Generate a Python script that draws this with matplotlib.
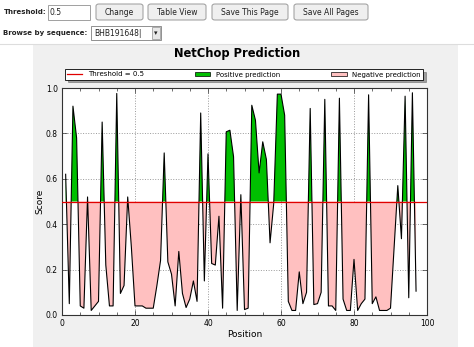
import matplotlib
matplotlib.use("Agg")
import matplotlib.pyplot as plt
import numpy as np
from matplotlib.patches import Rectangle, FancyBboxPatch, Patch
from matplotlib.lines import Line2D
from matplotlib.ticker import MultipleLocator

# ---------------- data ----------------
positions = list(range(1, 98))
scores = [
    0.62, 0.05, 0.92, 0.78, 0.04, 0.03, 0.52, 0.02, 0.04, 0.06,   # 1-10
    0.85, 0.22, 0.04, 0.04, 0.976, 0.095, 0.13, 0.52, 0.30, 0.04,  # 11-20
    0.04, 0.04, 0.03, 0.03, 0.03, 0.13, 0.24, 0.714, 0.234, 0.18,  # 21-30
    0.04, 0.28, 0.095, 0.033, 0.07, 0.15, 0.06, 0.89, 0.15, 0.71,  # 31-40
    0.227, 0.22, 0.435, 0.03, 0.807, 0.814, 0.697, 0.02, 0.53, 0.024,  # 41-50
    0.03, 0.924, 0.858, 0.626, 0.763, 0.685, 0.318, 0.49, 0.973, 0.973,  # 51-60
    0.88, 0.06, 0.02, 0.02, 0.19, 0.05, 0.10, 0.91, 0.046, 0.05,  # 61-70
    0.10, 0.95, 0.04, 0.04, 0.02, 0.955, 0.07, 0.02, 0.02, 0.245,  # 71-80
    0.02, 0.05, 0.07, 0.97, 0.05, 0.08, 0.02, 0.02, 0.02, 0.03,  # 81-90
    0.30, 0.57, 0.336, 0.964, 0.076, 0.979, 0.105,               # 91-97
]
threshold = 0.5
x_ticks = [0, 20, 40, 60, 80, 100]
y_ticks = [0.0, 0.2, 0.4, 0.6, 0.8, 1.0]
title = "NetChop Prediction"
legend_labels = ["Threshold = 0.5", "Positive prediction", "Negative prediction"]
buttons = ["Change", "Table View", "Save This Page", "Save All Pages"]

# ---------------- figure ----------------
W, H = 474, 347
fig = plt.figure(figsize=(W / 100, H / 100), dpi=100)
fig.patch.set_facecolor("white")

def fx(px):
    return px / W

def fy(py):
    return 1 - py / H

# chart panel background
fig.patches.append(Rectangle((fx(33), fy(347)), fx(458) - fx(33), fy(45) - fy(347),
                             transform=fig.transFigure, facecolor="#f0f0f0",
                             edgecolor="none", zorder=-5))
# separator line
fig.lines.append(Line2D([0, 1], [fy(44), fy(44)], transform=fig.transFigure,
                        color="#dddddd", lw=0.8, zorder=-4))

# form controls
fs_form = 5.0
fs_btn = 5.5
fig.text(fx(4), fy(12), "Threshold:", fontsize=fs_form, fontweight="bold",
         va="center", ha="left", color="#222222")
fig.patches.append(Rectangle((fx(48), fy(20)), fx(90) - fx(48), fy(5) - fy(20),
                             transform=fig.transFigure, facecolor="white",
                             edgecolor="#a0a0a0", lw=0.7, zorder=-3))
fig.text(fx(50), fy(12.5), "0.5", fontsize=fs_btn, va="center", ha="left", color="#222222")

btn_x = [(96, 143), (148, 206), (212, 288), (294, 368)]
for label, (x0, x1) in zip(buttons, btn_x):
    fig.patches.append(FancyBboxPatch((fx(x0), fy(20)), fx(x1) - fx(x0), fy(4) - fy(20),
                                      boxstyle="round,pad=0,rounding_size=0.006",
                                      transform=fig.transFigure, facecolor="#efefef",
                                      edgecolor="#9a9a9a", lw=0.7, zorder=-3))
    fig.text(fx((x0 + x1) / 2), fy(12.5), label, fontsize=fs_btn, va="center",
             ha="center", color="#222222")

fig.text(fx(3), fy(33), "Browse by sequence:", fontsize=fs_form, fontweight="bold",
         va="center", ha="left", color="#222222")
fig.patches.append(Rectangle((fx(91), fy(40)), fx(161) - fx(91), fy(26) - fy(40),
                             transform=fig.transFigure, facecolor="white",
                             edgecolor="#909090", lw=0.7, zorder=-3))
fig.text(fx(94), fy(33.3), "BHB191648|", fontsize=fs_btn, va="center", ha="left",
         color="#222222")
fig.patches.append(Rectangle((fx(152), fy(39)), fx(160) - fx(152), fy(27) - fy(39),
                             transform=fig.transFigure, facecolor="#e8e8e8",
                             edgecolor="#909090", lw=0.5, zorder=-2))
fig.text(fx(156), fy(33), "\u25be", fontsize=5, va="center", ha="center", color="#222222")

# ---------------- axes ----------------
ax = fig.add_axes([fx(62), fy(315), fx(427) - fx(62), fy(88) - fy(315)])
ax.set_zorder(2)
ax.set_facecolor("white")
pos = np.array(positions)
sc = np.array(scores)

green = "#00c000"
pink = "#ffc0c0"
ax.fill_between(pos, sc, threshold, where=sc >= threshold, interpolate=True,
                facecolor=green, edgecolor="none", zorder=2)
ax.fill_between(pos, sc, threshold, where=sc <= threshold, interpolate=True,
                facecolor=pink, edgecolor="none", zorder=2)
ax.plot(pos, sc, color="black", lw=0.8, zorder=3)
ax.axhline(threshold, color="#e00000", lw=0.9, zorder=4)

ax.set_xlim(0, 100)
ax.set_ylim(0, 1.0)
ax.set_xticks(x_ticks)
ax.set_yticks(y_ticks)
ax.set_xticklabels([str(t) for t in x_ticks])
ax.set_yticklabels([f"{t:.1f}" for t in y_ticks])
ax.xaxis.set_minor_locator(MultipleLocator(5))
ax.tick_params(which="both", direction="in", top=True, right=True,
               labelsize=5.5, pad=3, width=0.5, color="#333333")
ax.tick_params(which="major", length=3.5)
ax.tick_params(which="minor", length=2)
ax.grid(True, which="major", linestyle=":", color="#999999", lw=0.7, zorder=1)
ax.set_axisbelow(True)
for s in ax.spines.values():
    s.set_linewidth(0.8)
    s.set_color("#333333")

ax.set_xlabel("Position", fontsize=6.5, labelpad=1)
ax.set_ylabel("Score", fontsize=6.5, labelpad=1)
fig.text(fx(237), fy(54), title, fontsize=8.3, fontweight="bold", ha="center",
         va="center", color="black")

handles = [Line2D([], [], color="#e00000", lw=0.9),
           Patch(facecolor=green, edgecolor="black", lw=0.5),
           Patch(facecolor=pink, edgecolor="black", lw=0.5)]
leg = fig.legend(handles, legend_labels, ncol=3, mode="expand",
                 bbox_to_anchor=(fx(65), fy(81), fx(423) - fx(65), fy(68) - fy(81)),
                 bbox_transform=fig.transFigure, loc="center", fontsize=5,
                 frameon=True, fancybox=False, shadow=True, borderpad=0.3,
                 handlelength=2.2, handleheight=0.6, handletextpad=0.8,
                 borderaxespad=0)
leg.get_frame().set_edgecolor("black")
leg.get_frame().set_linewidth(0.6)

fig.savefig("out.png", dpi=100, facecolor=fig.get_facecolor())
